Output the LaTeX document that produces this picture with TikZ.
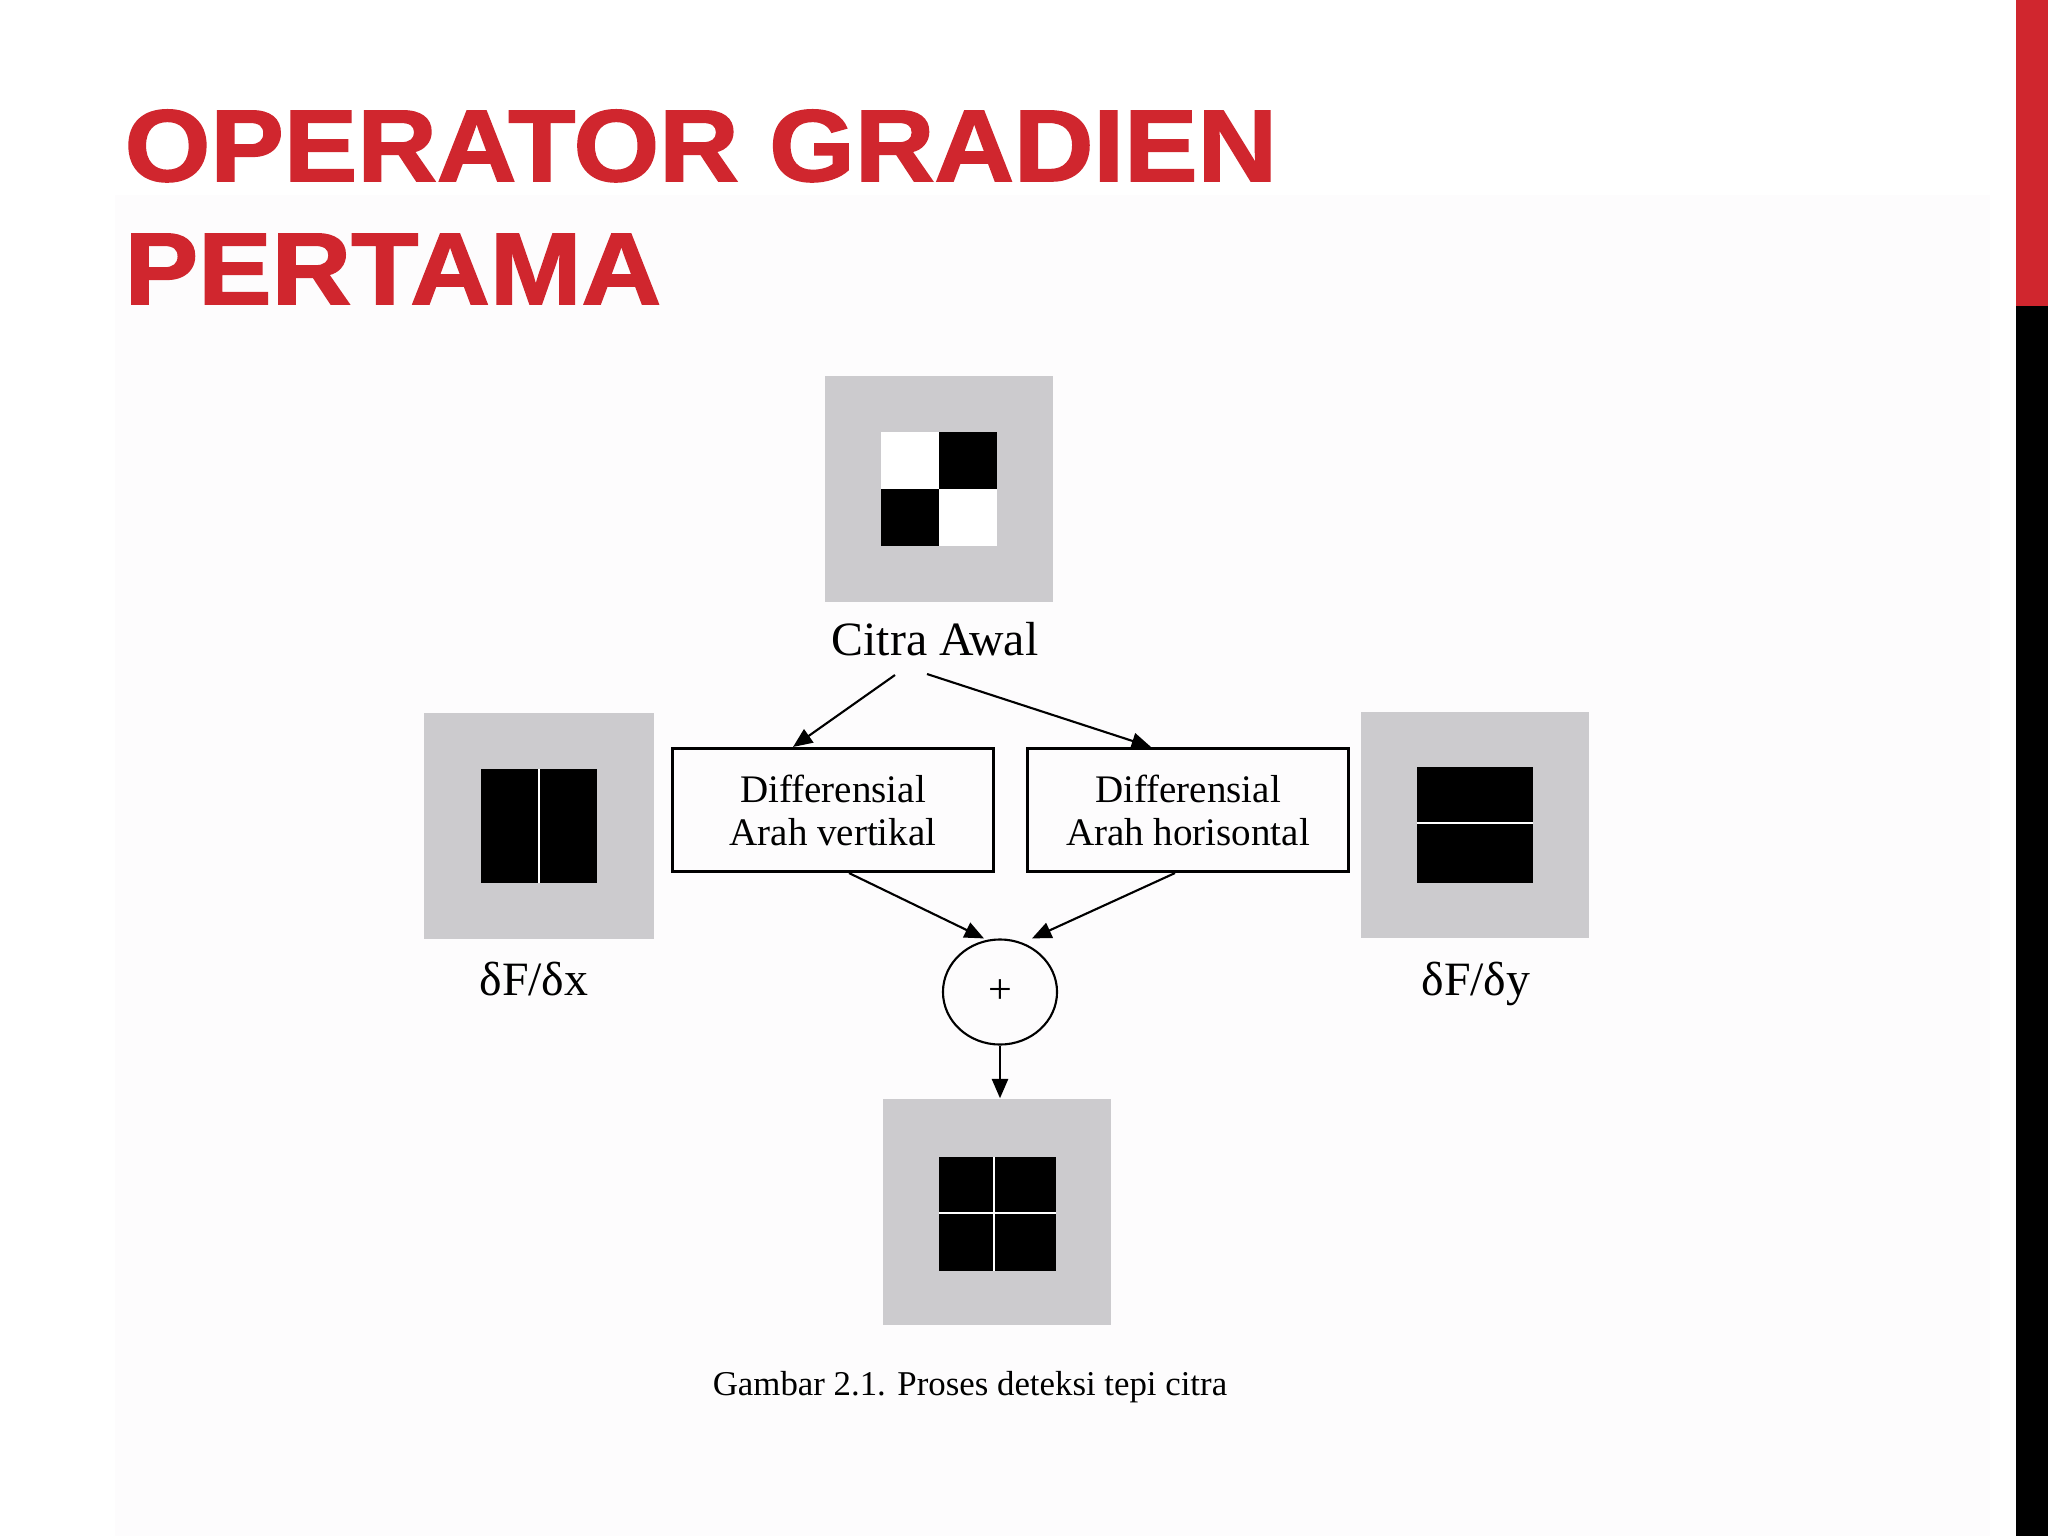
\documentclass[tikz,border=0pt]{standalone}
\usepackage{graphicx}
\usepackage{fontspec}
\setmainfont{Liberation Serif}
\newfontfamily\titlefont[FakeBold=1.6]{Liberation Sans Bold}
\usetikzlibrary{arrows.meta,calc,shapes.geometric}
\definecolor{slidered}{RGB}{208,38,46}
\definecolor{imggray}{RGB}{204,203,206}
\definecolor{paper}{RGB}{253,252,253}
\tikzset{
  img/.style={fill=imggray,minimum width=2.28cm,minimum height=2.26cm,inner sep=0pt},
  diffbox/.style={draw,line width=0.85pt,minimum width=3.2cm,minimum height=1.23cm,align=center,
    font=\fontsize{11.1}{12.2}\selectfont},
  lbl/.style={anchor=base,inner sep=0pt,font=\fontsize{13.6}{16}\selectfont},
  judul/.style={anchor=base west,inner sep=0pt,text=slidered,
    font=\titlefont\fontsize{29}{35}\selectfont},
  arr/.style={line width=0.6pt,-{Triangle[length=5.5pt,width=4.6pt]}},
}
\begin{document}
\begin{tikzpicture}[x=0.01cm,y=-0.01cm]
\useasboundingbox (0,0) rectangle (2048,1536);
\fill[white] (0,0) rectangle (2048,1536);
\fill[paper] (115,195) rectangle (1990,1536);
\fill[slidered] (2016,0) rectangle (2048,306);
\fill[black] (2016,306) rectangle (2048,1536);

% title
\node[judul] (judul1) at (124,181) {\scalebox{1.08}[1]{OPERATOR GRADIEN}};
\node[judul] (judul2) at (124,304) {\scalebox{1.08}[1]{PERTAMA}};

% citra awal
\node[img] (awal) at (939,489) {};
\fill[white] (awal) ++(-58,-57) rectangle ++(58,57);
\fill[black] (awal) ++(0,-57) rectangle ++(58,57);
\fill[black] (awal) ++(-58,0) rectangle ++(58,57);
\fill[white] (awal) rectangle ++(58,57);
\node[lbl] (awaltxt) at (935,655) {Citra Awal};

% dF/dx
\node[img,minimum width=2.3cm,minimum height=2.25cm] (dx) at (539,826) {};
\fill[black] (dx) ++(-58,-57) rectangle ++(116,114);
\draw[white,line width=0.5pt] (dx) ++(0,-57) -- ++(0,114);
\node[lbl] (dxtxt) at (534,995) {δF/δx};

% dF/dy
\node[img] (dy) at (1475,825) {};
\fill[black] (dy) ++(-58,-58) rectangle ++(116,116);
\draw[white,line width=0.5pt] (dy) ++(-58,-2) -- ++(116,0);
\node[lbl] (dytxt) at (1476,995) {δF/δy};

% differensial
\node[diffbox] (difv) at (833,810) {Differensial\\Arah vertikal};
\node[diffbox] (difh) at (1188,810) {Differensial\\Arah horisontal};

% jumlah
\node[draw,ellipse,line width=0.6pt,minimum width=1.14cm,minimum height=1.05cm,inner sep=0pt,
  font=\fontsize{12}{14}\selectfont] (sum) at (1000,992) {+};

% hasil
\node[img] (hasil) at (997,1212) {};
\fill[black] (hasil) ++(-58,-55) rectangle ++(117,114);
\draw[white,line width=0.5pt] (hasil) ++(-3,-55) -- ++(0,114);
\draw[white,line width=0.5pt] (hasil) ++(-58,1) -- ++(117,0);

\draw[arr] ($(awaltxt.base)+(-40,20)$) -- ($(difv.north)+(-40,0)$);
\draw[arr] ($(awaltxt.base)+(-8,19)$) -- ($(difh.north)+(-37,0)$);
\draw[arr] ($(difv.south)+(16,0)$) -- ($(sum.north)+(-16,0)$);
\draw[arr] ($(difh.south)+(-13,0)$) -- ($(sum.north)+(32,0)$);
\draw[arr] (sum.south) -- (sum.south |- hasil.north);

\node[anchor=base,inner sep=0pt,font=\fontsize{9.9}{12}\selectfont] (ket) at (970,1395)
  {Gambar 2.1. Proses deteksi tepi citra};
\end{tikzpicture}
\end{document}
